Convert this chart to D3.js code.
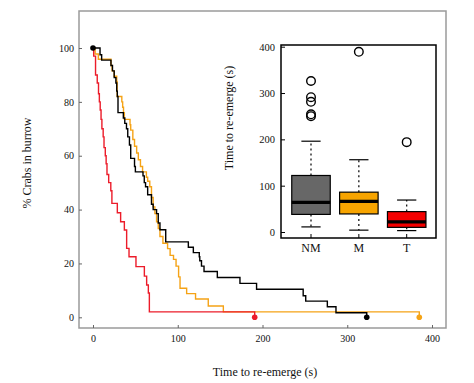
<!DOCTYPE html>
<html><head><meta charset="utf-8">
<script src="https://cdn.jsdelivr.net/npm/d3@7"></script>
<style>body{margin:0;background:#fff}svg{display:block}text{font-family:"Liberation Serif","DejaVu Serif",serif;fill:#111}</style>
</head><body>
<script>
// ---- Kaplan-Meier style curves: time (s) at which level (%) drops to value
const nmTimes  = [8.3,10.2,21.2,23,25,27,28,28.7,29.5,35.8,37.5,39.5,41,43,44.5,49,50,59,60.5,62,64.5,69,71,75,77,79,85.8,112.5,118.4,125.4,126,128,131,146.7,173.4,193,248,251,276.5,286.7];
const nmLevels = [97.5,95.5,93.5,91.5,89,87,84,82,76,74,72,70,67,64,59,56,54,52.5,50,48.5,45.5,42,40,38.5,35,32.5,28,26,24,22.5,21,19,17,14.8,12.6,10.4,8,6,3.9,1.7];
const mTimes   = [2.5,6.3,21.2,22.5,25,28,28.5,34,35,36,37,43.7,44.5,47,49,51.5,53.5,56,58.5,63,64.5,67,69,71,73,75,77,79,82.5,88,91,95,98,101,102.7,110.5,121,136,153.8];
const mLevels  = [97.8,95.8,93.5,91.5,89.5,87.5,82,80,78,76,73.5,71.5,69.5,66,63.5,61,58.5,56,54,52,50.5,48.5,44.5,41,38.5,35.5,33,30,27.5,25.5,23,21.5,19,15,10.8,8.8,6.8,4.2,2];
const tTimes   = [0.8,3,5,6.5,7.5,8.5,9.5,10.5,12,13,14.5,15.5,16.5,18.5,21,22.3,28.7,32.6,37,39.7,42.5,50.7,60.6,63.3,65.3,66.5];
const tLevels  = [97,90,87,83,80,77,73.5,70,67,63,60,57,53,50,47,42.3,38.8,35.5,32.4,25.6,22.5,18.8,15.3,12,9,2];
const endTimes = {NM:323, M:385, T:190.8};
const xTicks = [0,100,200,300,400];
const yTicks = [0,20,40,60,80,100];

// ---- inset boxplot
const groups   = ["NM","M","T"];
const whiskLo  = [11,4,3];
const q1       = [38,39,10];
const median   = [64,66,22];
const q3       = [122,86,44];
const whiskHi  = [196,156,69];
const outliers = [[326,291,281,254,250],[389],[194]];
const insetTicks = [0,100,200,300,400];

const colors = {NM:"#000000", M:"#f5a316", T:"#ec1c2a"};
const boxFill = ["#676767","#f7a400","#f40000"];

const W=474,H=383;
const svg=d3.select("body").append("svg").attr("width",W).attr("height",H);

// main plot
const frame={l:79,r:446,t:11,b:328};
const x=d3.scaleLinear().domain([0,400]).range([93,432]);
const y=d3.scaleLinear().domain([0,100]).range([317.3,48]);

svg.append("rect").attr("x",frame.l).attr("y",frame.t).attr("width",frame.r-frame.l).attr("height",frame.b-frame.t)
  .attr("fill","none").attr("stroke","#9a9a9a").attr("stroke-width",1.5);

const xAxis=svg.append("g").attr("transform",`translate(0,${frame.b})`)
  .call(d3.axisBottom(x).tickValues(xTicks).tickSize(-3).tickPadding(8).tickFormat(d3.format("d")));
xAxis.select(".domain").remove();
xAxis.selectAll("line").attr("stroke","#666");
xAxis.selectAll("text").attr("font-size",10).attr("dy","0.71em").attr("y",7);

const yAxis=svg.append("g").attr("transform",`translate(${frame.l},0)`)
  .call(d3.axisLeft(y).tickValues(yTicks).tickSize(-3).tickPadding(5).tickFormat(d3.format("d")));
yAxis.select(".domain").remove();
yAxis.selectAll("line").attr("stroke","#666");
yAxis.selectAll("text").attr("font-size",10).attr("x",-5);

const line=d3.line().x(d=>x(d[0])).y(d=>y(d[1])).curve(d3.curveStepAfter);
function pts(times,levels,end){
  const p=[[0,100]];
  times.forEach((t,i)=>p.push([t,levels[i]]));
  p.push([end,0]);
  return p;
}
const series=[
  {k:"M",p:pts(mTimes,mLevels,endTimes.M)},
  {k:"NM",p:pts(nmTimes,nmLevels,endTimes.NM)},
  {k:"T",p:pts(tTimes,tLevels,endTimes.T)}
];
series.forEach(s=>{
  svg.append("path").attr("d",line(s.p)).attr("fill","none").attr("stroke",colors[s.k]).attr("stroke-width",1.4);
});
series.forEach(s=>{
  svg.append("circle").attr("cx",x(endTimes[s.k])).attr("cy",y(0)).attr("r",2.8).attr("fill",colors[s.k]);
});
svg.append("circle").attr("cx",x(0)).attr("cy",y(100)).attr("r",2.8).attr("fill","#000");

svg.append("text").attr("x",265).attr("y",376).attr("text-anchor","middle").attr("font-size",12).text("Time to re-emerge (s)");
svg.append("text").attr("transform","translate(31,163) rotate(-90)").attr("text-anchor","middle").attr("font-size",12).text("% Crabs in burrow");

// inset
const ib={l:281,r:436,t:45,b:238};
const g=svg.append("g");
g.append("rect").attr("x",ib.l).attr("y",ib.t).attr("width",ib.r-ib.l).attr("height",ib.b-ib.t).attr("fill","#fff").attr("stroke","none");
const iy=d3.scaleLinear().domain([0,400]).range([232,46.7]);
const ix=d3.scaleLinear().domain([0,2]).range([311,406.7]);
const bw=38.5;

const iyAxis=g.append("g").attr("transform",`translate(${ib.l},0)`)
  .call(d3.axisLeft(iy).tickValues(insetTicks).tickSize(-4).tickPadding(6).tickFormat(d3.format("d")));
iyAxis.select(".domain").remove();
iyAxis.selectAll("line").attr("stroke","#000");
iyAxis.selectAll("text").attr("font-size",10.5).attr("x",-6);

groups.forEach((gname,i)=>{
  const cx=ix(i);
  g.append("line").attr("x1",cx).attr("x2",cx).attr("y1",iy(q3[i])).attr("y2",iy(whiskHi[i]))
    .attr("stroke","#000").attr("stroke-width",1.2).attr("stroke-dasharray","2,3");
  g.append("line").attr("x1",cx).attr("x2",cx).attr("y1",iy(q1[i])).attr("y2",iy(whiskLo[i]))
    .attr("stroke","#000").attr("stroke-width",1.2).attr("stroke-dasharray","2,3");
  [whiskHi[i],whiskLo[i]].forEach(v=>g.append("line").attr("x1",cx-bw/4).attr("x2",cx+bw/4)
    .attr("y1",iy(v)).attr("y2",iy(v)).attr("stroke","#000").attr("stroke-width",1.2));
  g.append("rect").attr("x",cx-bw/2).attr("width",bw).attr("y",iy(q3[i])).attr("height",iy(q1[i])-iy(q3[i]))
    .attr("fill",boxFill[i]).attr("stroke","#000").attr("stroke-width",1.2);
  g.append("line").attr("x1",cx-bw/2).attr("x2",cx+bw/2).attr("y1",iy(median[i])).attr("y2",iy(median[i]))
    .attr("stroke","#000").attr("stroke-width",3.2);
  outliers[i].forEach(v=>g.append("circle").attr("cx",cx).attr("cy",iy(v)).attr("r",4.3)
    .attr("fill","none").attr("stroke","#000").attr("stroke-width",1.4));
  g.append("line").attr("x1",cx).attr("x2",cx).attr("y1",ib.b).attr("y2",ib.b-4).attr("stroke","#000");
  g.append("text").attr("x",cx).attr("y",252).attr("text-anchor","middle").attr("font-size",12).text(gname);
});
g.append("rect").attr("x",ib.l).attr("y",ib.t).attr("width",ib.r-ib.l).attr("height",ib.b-ib.t).attr("fill","none").attr("stroke","#000").attr("stroke-width",1.5);
g.append("text").attr("transform","translate(233,118) rotate(-90)").attr("text-anchor","middle").attr("font-size",12).text("Time to re-emerge (s)");
</script>
</body></html>
